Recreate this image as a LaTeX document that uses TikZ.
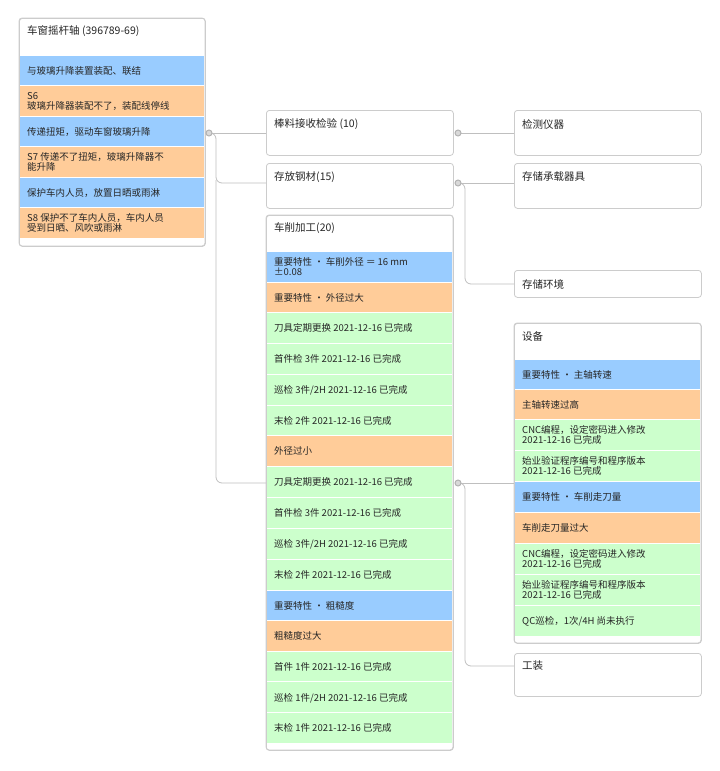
\documentclass[tikz,border=0pt]{standalone}
\usepackage{fontspec}
\setmainfont{Noto Sans CJK SC}
\begin{document}
\begin{tikzpicture}[x=1pt,y=-1pt,
  card/.style={draw=black!20,fill=white,rounded corners=3pt,line width=0.8pt,inner sep=0,anchor=north west},
  cardo/.style={draw=black!20,rounded corners=3pt,line width=0.8pt},
  txt/.style={anchor=west,inner sep=0,align=left,font=\fontsize{9.5}{10}\selectfont,text=black!85},
  ttl/.style={anchor=west,inner sep=0,font=\fontsize{10.5}{12}\selectfont,text=black!85},
  conn/.style={draw=black!25,line width=0.8pt,rounded corners=6pt},
  dot/.style={circle,draw=black!30,fill=black!15,line width=1pt,inner sep=0,minimum size=6pt}]
\definecolor{cb}{HTML}{99CCFF}
\definecolor{co}{HTML}{FFCC99}
\definecolor{cg}{HTML}{CCFFCC}
\useasboundingbox (0,0) rectangle (720,771);
\newcommand{\rw}[6]{\fill[#2] (#3,#4) rectangle (#5,#6);}
% ---------- left card
\node[card,minimum width=186pt,minimum height=228pt] (L) at (19,18) {};
\node[ttl] (Lt) at (27,31) {车窗摇杆轴 (396789-69)};
\rw{}{cb}{20}{56}{204}{85}\node[txt] (L1) at (27,70.5) {与玻璃升降装置装配、联结};
\rw{}{co}{20}{86}{204}{116}\node[txt] (L2) at (27,101) {S6\\玻璃升降器装配不了，装配线停线};
\rw{}{cb}{20}{117}{204}{146}\node[txt] (L3) at (27,131.5) {传递扭矩，驱动车窗玻璃升降};
\rw{}{co}{20}{147}{204}{177}\node[txt] (L4) at (27,162) {S7 传递不了扭矩，玻璃升降器不\\能升降};
\rw{}{cb}{20}{178}{204}{207}\node[txt] (L5) at (27,192.5) {保护车内人员，放置日晒或雨淋};
\rw{}{co}{20}{208}{204}{238}\node[txt] (L6) at (27,223) {S8 保护不了车内人员，车内人员\\受到日晒、风吹或雨淋};
\draw[cardo] (19,18) rectangle (205,246);
% ---------- middle cards
\node[card,minimum width=187pt,minimum height=45pt] (M1) at (266,110) {};
\node[ttl] at (274,124) {棒料接收检验 (10)};
\node[card,minimum width=187pt,minimum height=45pt] (M2) at (266,163) {};
\node[ttl] at (274,177) {存放钢材(15)};
\node[card,minimum width=187pt,minimum height=535pt] (M3) at (266,215) {};
\node[ttl] at (274,228) {车削加工(20)};
\rw{}{cb}{267}{252}{452}{282}\node[txt] at (274,267) {重要特性 • 车削外径 ＝ 16 mm\\±0.08};
\rw{}{co}{267}{283}{452}{312}\node[txt] at (274,298) {重要特性 • 外径过大};
\rw{}{cg}{267}{313}{452}{343}\node[txt] at (274,328) {刀具定期更换 2021-12-16 已完成};
\rw{}{cg}{267}{344}{452}{374}\node[txt] at (274,359) {首件检 3件 2021-12-16 已完成};
\rw{}{cg}{267}{375}{452}{405}\node[txt] at (274,390) {巡检 3件/2H 2021-12-16 已完成};
\rw{}{cg}{267}{406}{452}{435}\node[txt] at (274,421) {末检 2件 2021-12-16 已完成};
\rw{}{co}{267}{436}{452}{466}\node[txt] at (274,451) {外径过小};
\rw{}{cg}{267}{467}{452}{497}\node[txt] at (274,482) {刀具定期更换 2021-12-16 已完成};
\rw{}{cg}{267}{498}{452}{528}\node[txt] at (274,513) {首件检 3件 2021-12-16 已完成};
\rw{}{cg}{267}{529}{452}{559}\node[txt] at (274,544) {巡检 3件/2H 2021-12-16 已完成};
\rw{}{cg}{267}{560}{452}{590}\node[txt] at (274,575) {末检 2件 2021-12-16 已完成};
\rw{}{cb}{267}{591}{452}{620}\node[txt] at (274,606) {重要特性 • 粗糙度};
\rw{}{co}{267}{621}{452}{651}\node[txt] at (274,636) {粗糙度过大};
\rw{}{cg}{267}{652}{452}{681}\node[txt] at (274,667) {首件 1件 2021-12-16 已完成};
\rw{}{cg}{267}{682}{452}{712}\node[txt] at (274,698) {巡检 1件/2H 2021-12-16 已完成};
\rw{}{cg}{267}{713}{452}{743}\node[txt] at (274,728) {末检 1件 2021-12-16 已完成};
\draw[cardo] (266,215) rectangle (453,750);
% ---------- right cards
\node[card,minimum width=187pt,minimum height=45pt] (R1) at (514,110) {};
\node[ttl] at (522,124) {检测仪器};
\node[card,minimum width=187pt,minimum height=45pt] (R2) at (514,163) {};
\node[ttl] at (522,177) {存储承载器具};
\node[card,minimum width=187pt,minimum height=27pt] (R3) at (514,270) {};
\node[ttl] at (522,284) {存储环境};
\node[card,minimum width=187pt,minimum height=320pt] (R4) at (514,323) {};
\node[ttl] at (522,337) {设备};
\rw{}{cb}{515}{360}{700}{389}\node[txt] at (522,375) {重要特性 • 主轴转速};
\rw{}{co}{515}{390}{700}{419}\node[txt] at (522,405) {主轴转速过高};
\rw{}{cg}{515}{420}{700}{450}\node[txt] at (522,435) {CNC编程，设定密码进入修改\\2021-12-16 已完成};
\rw{}{cg}{515}{451}{700}{481}\node[txt] at (522,466) {始业验证程序编号和程序版本\\2021-12-16 已完成};
\rw{}{cb}{515}{482}{700}{512}\node[txt] at (522,497) {重要特性 • 车削走刀量};
\rw{}{co}{515}{513}{700}{543}\node[txt] at (522,528) {车削走刀量过大};
\rw{}{cg}{515}{544}{700}{574}\node[txt] at (522,559) {CNC编程，设定密码进入修改\\2021-12-16 已完成};
\rw{}{cg}{515}{575}{700}{605}\node[txt] at (522,590) {始业验证程序编号和程序版本\\2021-12-16 已完成};
\rw{}{cg}{515}{606}{700}{636}\node[txt] at (522,621) {QC巡检，1次/4H 尚未执行};
\draw[cardo] (514,323) rectangle (701,643);
\node[card,minimum width=187pt,minimum height=43pt] (R5) at (514,653) {};
\node[ttl] at (522,666) {工装};
% ---------- connectors
\coordinate (d0) at (209,133);
\coordinate (d1) at (458,133);
\coordinate (d2) at (458,183);
\coordinate (d3) at (458,483);
\draw[conn] (d0) -- (M1.west|-d0);
\draw[conn] (d0) -- (216,133) -- (216,183) -- (M2.west|-d2);
\draw[conn] (216,180) -- (216,483) -- (M3.west|-d3);
\draw[conn] (d1) -- (R1.west|-d1);
\draw[conn] (d2) -- (R2.west|-d2);
\draw[conn] (d2) -- (465,183) -- (465,284) -- (R3.west|-{(0,284)});
\draw[conn] (d3) -- (R4.west|-d3);
\draw[conn] (d3) -- (465,483) -- (465,666) -- (R5.west|-{(0,666)});
\foreach \d in {d0,d1,d2,d3} \node[dot] (n\d) at (\d) {};
\end{tikzpicture}
\end{document}
